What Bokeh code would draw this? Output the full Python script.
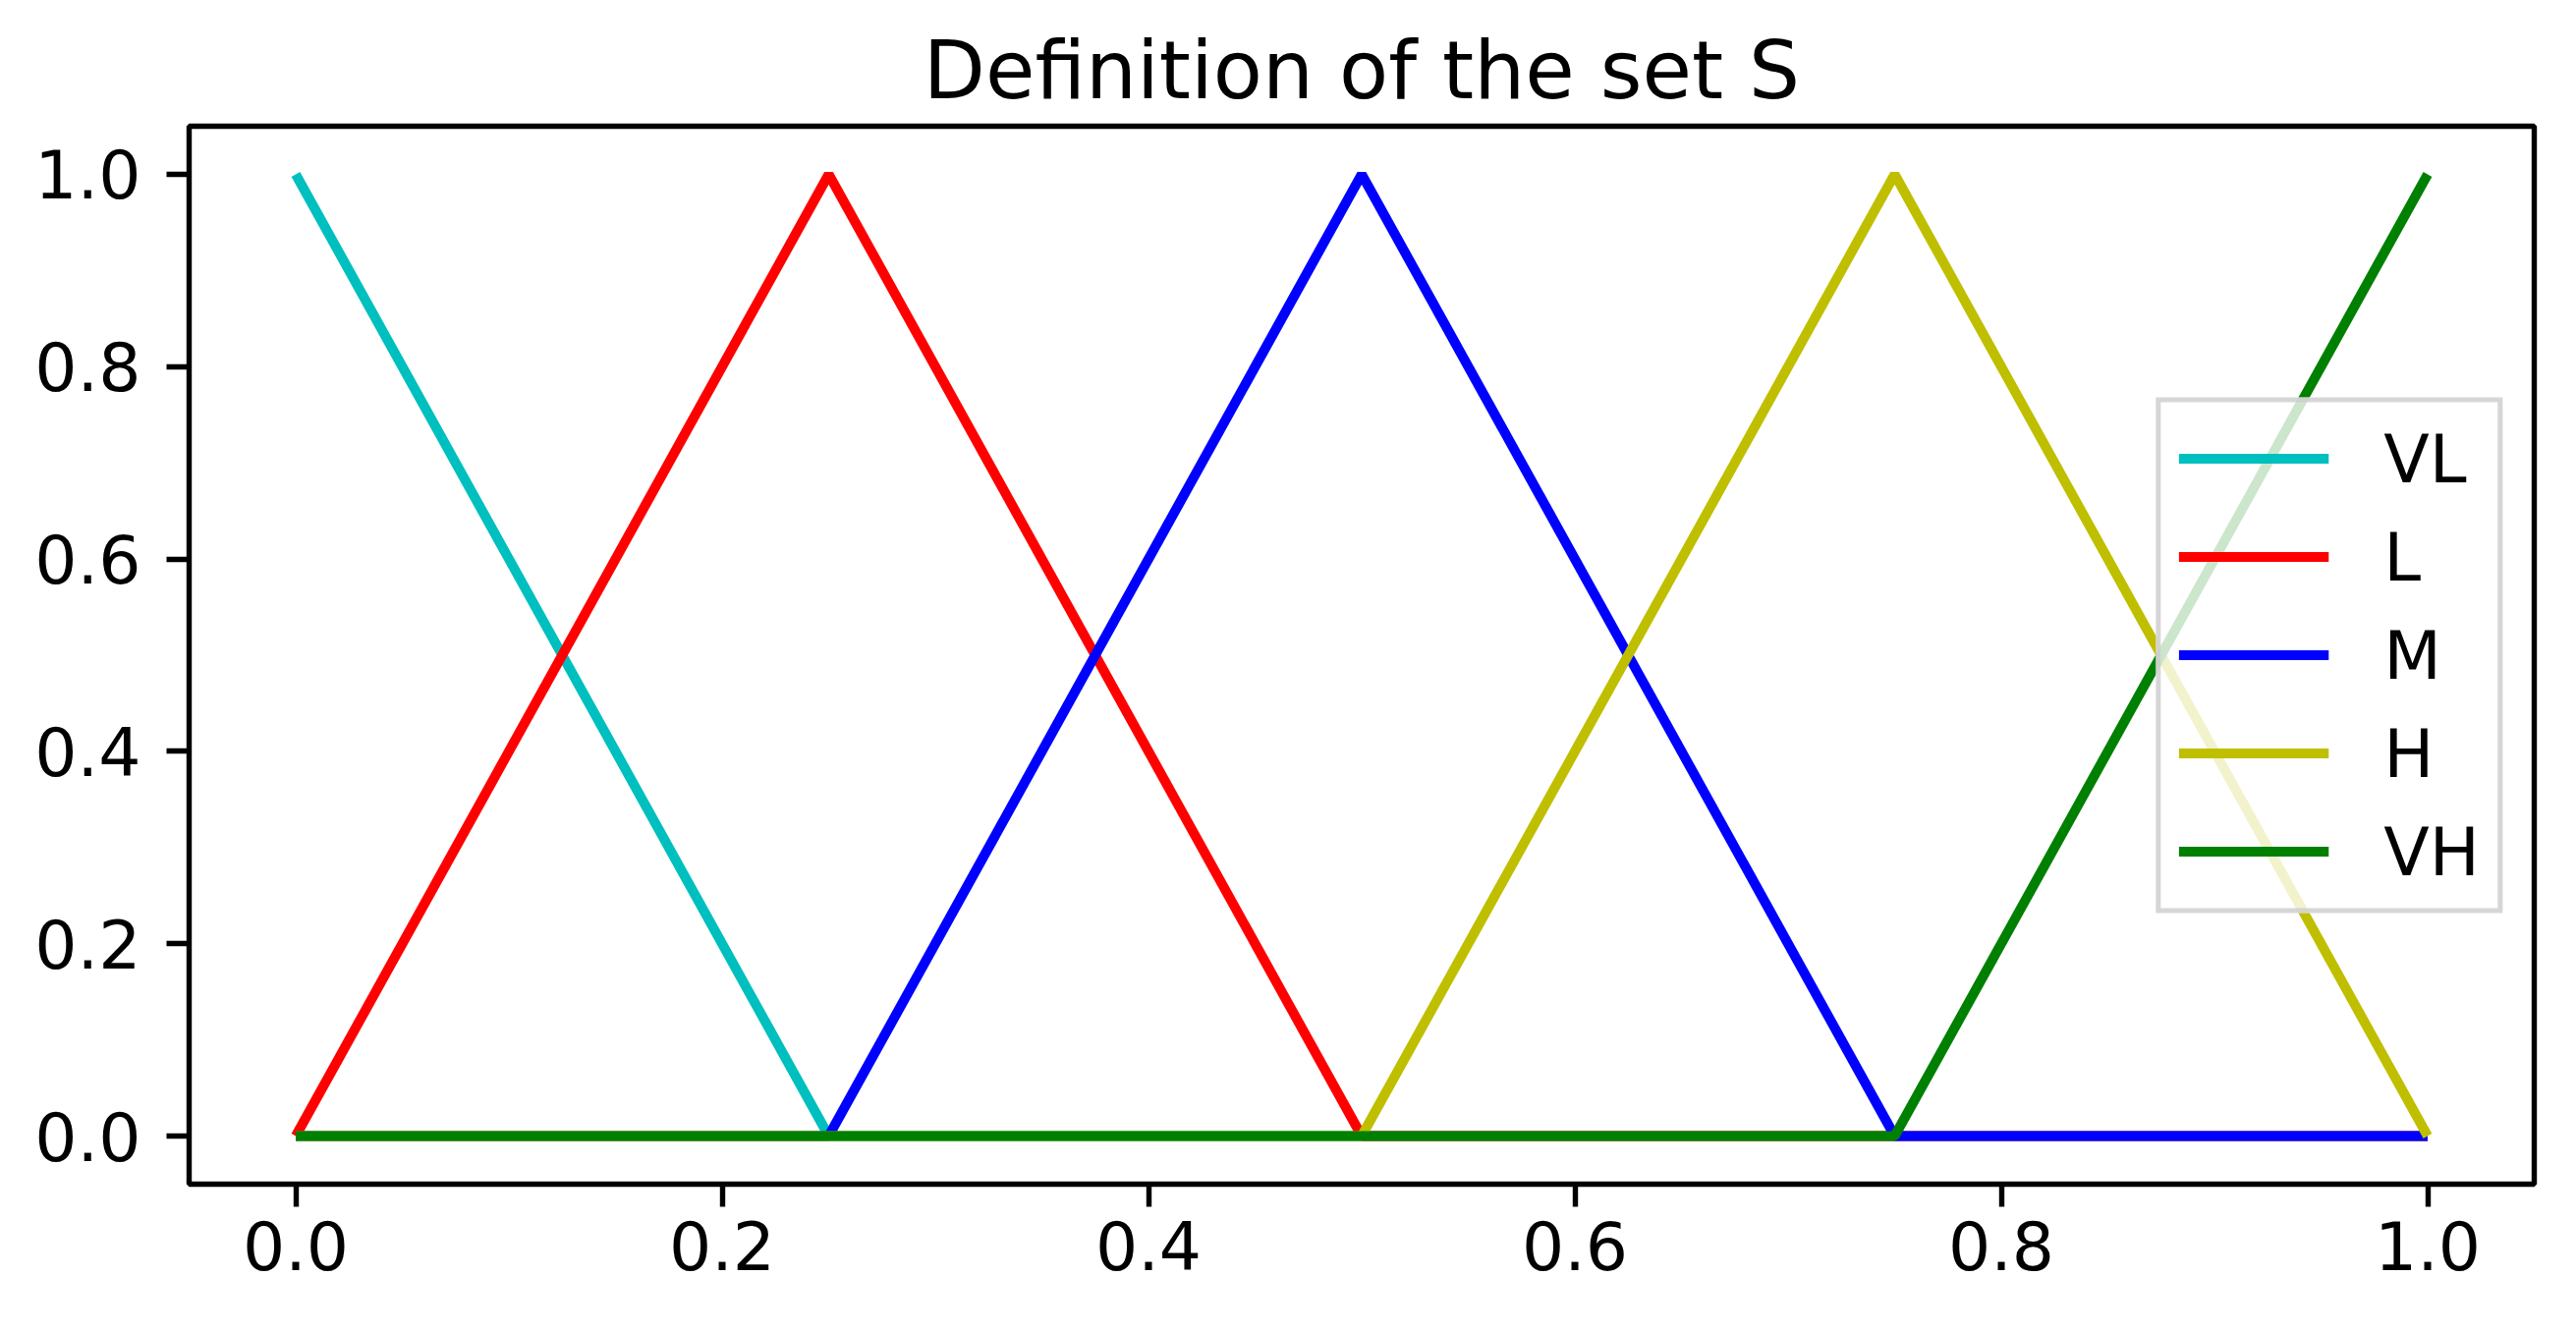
from bokeh.plotting import figure
from bokeh.models import Range1d, FixedTicker, PrintfTickFormatter, Legend, LegendItem
from bokeh.embed import file_html
from bokeh.resources import INLINE

# Data: membership functions of the set S
x_vl = [0.0, 0.25, 0.5, 0.75, 1.0]
y_vl = [1.0, 0.0, 0.0, 0.0, 0.0]
x_l = [0.0, 0.25, 0.5, 0.75, 1.0]
y_l = [0.0, 1.0, 0.0, 0.0, 0.0]
x_m = [0.0, 0.25, 0.5, 0.75, 1.0]
y_m = [0.0, 0.0, 1.0, 0.0, 0.0]
x_h = [0.0, 0.25, 0.5, 0.75, 1.0]
y_h = [0.0, 0.0, 0.0, 1.0, 0.0]
x_vh = [0.0, 0.25, 0.5, 0.75, 1.0]
y_vh = [0.0, 0.0, 0.0, 0.0, 1.0]
labels = ["VL", "L", "M", "H", "VH"]
colors = ["#00bfbf", "#ff0000", "#0000ff", "#bfbf00", "#008000"]
ticks = [0.0, 0.2, 0.4, 0.6, 0.8, 1.0]
title = "Definition of the set S"

FONT = "DejaVu Sans"
TICK_PX = "68px"

p = figure(width=2606, height=1340, output_backend="svg", toolbar_location=None,
           x_range=Range1d(-0.05, 1.05), y_range=Range1d(-0.05, 1.05),
           min_border_left=192, min_border_right=27, min_border_top=128, min_border_bottom=135)

p.title.text = title
p.title.text_font = FONT
p.title.text_font_size = "82px"
p.title.text_font_style = "normal"
p.title.text_color = "black"
p.title.align = "center"
p.title.standoff = 20

p.grid.visible = False
p.background_fill_color = "white"
p.border_fill_color = "white"
p.outline_line_color = "black"
p.outline_line_width = 5.4

for ax in (p.xaxis[0], p.yaxis[0]):
    ax.ticker = FixedTicker(ticks=ticks)
    ax.formatter = PrintfTickFormatter(format="%.1f")
    ax.axis_line_color = None
    ax.major_tick_line_color = "black"
    ax.major_tick_line_width = 5.4
    ax.major_tick_out = 23
    ax.major_tick_in = 0
    ax.minor_tick_line_color = None
    ax.major_label_text_font = FONT
    ax.major_label_text_font_size = TICK_PX
    ax.major_label_text_color = "black"
p.xaxis[0].major_label_standoff = 14
p.yaxis[0].major_label_standoff = 26

xs = [x_vl, x_l, x_m, x_h, x_vh]
ys = [y_vl, y_l, y_m, y_h, y_vh]
renderers = []
for xx, yy, c in zip(xs, ys, colors):
    r = p.line(xx, yy, line_color=c, line_width=10)
    renderers.append(r)

legend = Legend(items=[LegendItem(label=lab, renderers=[r]) for lab, r in zip(labels, renderers)],
                location="center_right")
legend.label_text_font = FONT
legend.label_text_font_size = TICK_PX
legend.label_text_color = "black"
legend.label_standoff = 56
legend.glyph_width = 153
legend.glyph_height = 76
legend.label_height = 76
legend.spacing = 21
legend.padding = 18
legend.margin = 32
legend.background_fill_color = "white"
legend.background_fill_alpha = 0.8
legend.border_line_color = "#cccccc"
legend.border_line_width = 5.4
legend.border_line_alpha = 0.8
p.add_layout(legend, "center")

open("out.html", "w").write(file_html(p, INLINE))
